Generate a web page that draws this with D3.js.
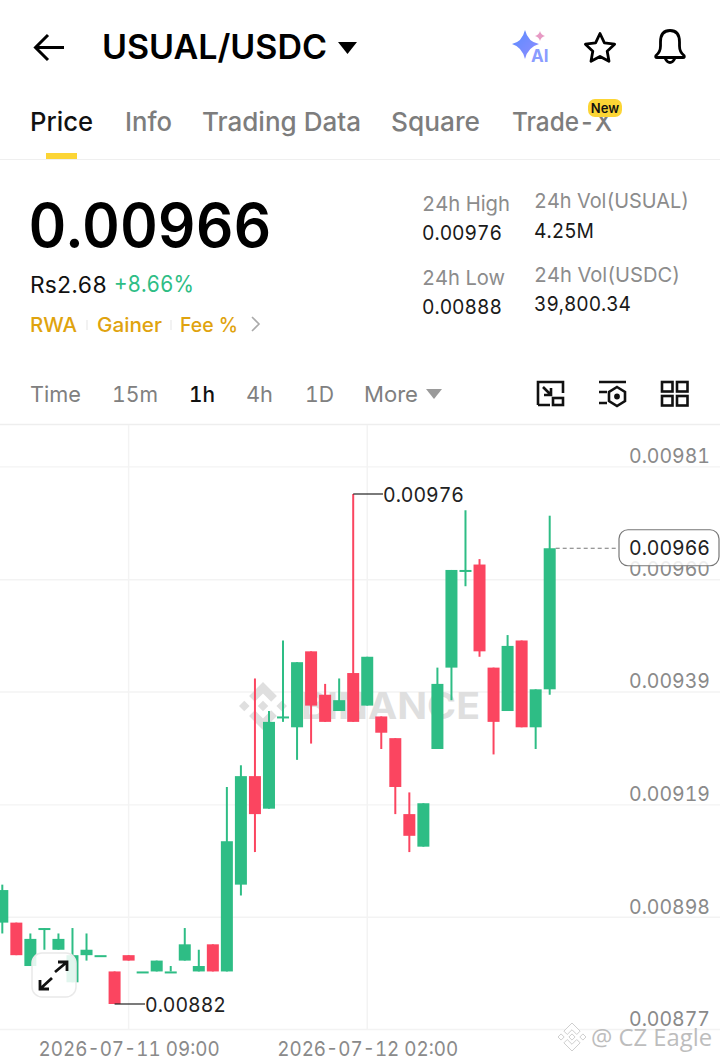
<!DOCTYPE html>
<html>
<head>
<meta charset="utf-8">
<script src="https://cdn.jsdelivr.net/npm/d3@7"></script>
<style>
  html, body { margin: 0; padding: 0; background: #fff; }
  svg { display: block; }
  text { font-family: Inter, "Noto Sans", sans-serif; font-feature-settings: "tnum"; }
</style>
</head>
<body>
<svg id="chart" width="720" height="1062"></svg>
<script>
// hourly candles, 2026-07-11 00:00 onwards (prices in 1e-5 USDC)
const opens  = [897,897,889,896,892,886,891,891,888,891,888,888,888,890,888,893,888,904,924,918,935,933,947,939,936,943,937,935,931,917,911,929,944,962,963,944,936,949,933,940];
const closes = [903,891,894,896,894,891,892,891,882,890,888,890,888,893,889,888,912,924,917,934,935,945,937,934,938,934,946,932,922,913,919,941,962,962,947,934,948,933,940,966];
const highs  = [904,897,895,896,895,896,895,891,888,891,888,890,889,896,892,893,922,926,942,936,949,945,947,941,942,976,946,935,931,921,919,944,962,973,964,944,950,949,940,972];
const lows   = [895,891,889,892,892,886,890,891,882,890,888,888,888,890,888,888,888,902,910,918,934,927,930,934,936,934,937,929,917,910,911,929,938,959,946,928,936,933,929,939];

const priceTicks = [0.00981, 0.009602, 0.009395, 0.009187, 0.00898, 0.008773];
const priceLabels = ['0.00981', '0.00960', '0.00939', '0.00919', '0.00898', '0.00877'];
const timeTicks = [Date.UTC(2026, 6, 11, 9), Date.UTC(2026, 6, 12, 2)];
const lastPrice = 0.00966;
const maxMark = { i: 25, price: 0.00976, label: '0.00976' };
const minMark = { i: 8, price: 0.00882, label: '0.00882' };

const GREEN = '#2ebd85';
const RED = '#fb4560';
const GRID = '#f3f3f3';
const HOUR = 3600000;
const START = Date.UTC(2026, 6, 11, 0);

const svg = d3.select('#chart');

const x = d3.scaleUtc()
    .domain([START, START + 39 * HOUR])
    .range([2.3, 549.7]);
const y = d3.scaleLinear()
    .domain([0.00976, 0.00882])
    .range([494, 1004]);

function label(parent, px, py, str, size, fill, weight, anchor) {
    return parent.append('text')
        .attr('x', px)
        .attr('y', py)
        .attr('font-size', size)
        .attr('font-weight', weight || 400)
        .attr('text-anchor', anchor || 'start')
        .attr('lengthAdjust', 'spacingAndGlyphs')
        .attr('fill', fill)
        .text(str);
}

// ---- header
const head = svg.append('g');
head.append('path')
    .attr('d', 'M36 47.5H64M48 35L35.5 47.5L48 60')
    .attr('fill', 'none').attr('stroke', '#000').attr('stroke-width', 3);
label(head, 102, 59, 'USUAL/USDC', 34, '#000', 600).attr('textLength', 225);
head.append('path').attr('d', 'M338 42H357L347.5 54Z').attr('fill', '#000');

// AI sparkle
const defs = svg.append('defs');
const grad = defs.append('linearGradient').attr('id', 'ai').attr('x1', 0).attr('x2', 1).attr('y1', 0).attr('y2', 1);
grad.append('stop').attr('offset', 0).attr('stop-color', '#5b8cff');
grad.append('stop').attr('offset', 1).attr('stop-color', '#8f8cff');
head.append('path')
    .attr('d', 'M525 30Q528 42 539 44Q528 47 525 59Q522 47 512 44Q522 42 525 30Z')
    .attr('fill', 'url(#ai)');
head.append('path')
    .attr('d', 'M540 31Q541 35 545 36Q541 37 540 41Q539 37 535 36Q539 35 540 31Z')
    .attr('fill', '#e79ac4');
label(head, 531, 62, 'AI', 17, '#8a9cff', 700);

head.append('path')
    .attr('d', 'M600 33.5L604.4 42.8L614.6 44.2L607.2 51.2L609 61.3L600 56.4L591 61.3L592.8 51.2L585.4 44.2L595.6 42.8Z')
    .attr('fill', 'none').attr('stroke', '#000').attr('stroke-width', 2.8).attr('stroke-linejoin', 'round');
head.append('path')
    .attr('d', 'M656 55.5Q660.5 52 660.5 46V42Q660.5 30.5 670 30.5Q679.5 30.5 679.5 42V46Q679.5 52 684 55.5Q685 57.5 683 57.5H657Q655 57.5 656 55.5ZM665 58Q667 62.5 670 62.5Q673 62.5 675 58')
    .attr('fill', 'none').attr('stroke', '#000').attr('stroke-width', 2.8).attr('stroke-linejoin', 'round');

// ---- tabs
const tabNames = ['Price', 'Info', 'Trading Data', 'Square', 'Trade-X'];
const tabX = [30, 125, 202, 391, 512];
const tabW = [63, 47, 159, 89, 100];
tabNames.forEach((t, i) => {
    label(head, tabX[i], 131, t, 26, i === 0 ? '#111' : '#7d7d7d', 500).attr('textLength', tabW[i]);
});
head.append('rect').attr('x', 46).attr('y', 153).attr('width', 31).attr('height', 6).attr('fill', '#fcd535');
head.append('line').attr('x1', 0).attr('x2', 720).attr('y1', 159.5).attr('y2', 159.5).attr('stroke', '#efefef');
head.append('rect').attr('x', 588).attr('y', 99).attr('width', 34).attr('height', 18).attr('rx', 7).attr('fill', '#fcd535');
label(head, 605, 113, 'New', 13, '#111', 600, 'middle');

// ---- price block
label(head, 28.5, 247, '0.00966', 60, '#000', 600).attr('textLength', 243);
label(head, 30, 293, 'Rs2.68', 22.5, '#111', 400).attr('textLength', 77);
label(head, 114, 292, '+8.66%', 22.5, '#2ebd85', 400).attr('textLength', 80);
label(head, 30, 332, 'RWA', 20, '#e0a30e', 500).attr('textLength', 47);
head.append('line').attr('x1', 87).attr('x2', 87).attr('y1', 320).attr('y2', 330).attr('stroke', '#e5e5e5');
label(head, 97, 332, 'Gainer', 20, '#e0a30e', 500).attr('textLength', 65);
head.append('line').attr('x1', 171).attr('x2', 171).attr('y1', 320).attr('y2', 330).attr('stroke', '#e5e5e5');
label(head, 180, 332, 'Fee %', 20, '#e0a30e', 500).attr('textLength', 58);
head.append('path').attr('d', 'M252 317L259 324L252 331').attr('fill', 'none').attr('stroke', '#aaa').attr('stroke-width', 1.6);

const statNames = ['24h High', '24h Low', '24h Vol(USUAL)', '24h Vol(USDC)'];
const statValues = ['0.00976', '0.00888', '4.25M', '39,800.34'];
const statX = [422, 422, 534, 534];
const statNameY = [211, 285, 208, 282];
const statValueY = [240, 314, 238, 311];
const statNameW = [88, 83, 155, 146];
const statValueW = [80, 80, 60, 97];
statNames.forEach((s, i) => {
    label(head, statX[i], statNameY[i], s, 20.5, '#8c8c8c').attr('textLength', statNameW[i]);
    label(head, statX[i], statValueY[i], statValues[i], 20.5, '#1a1a1a').attr('textLength', statValueW[i]);
});

// ---- interval row
const ranges = ['Time', '15m', '1h', '4h', '1D', 'More'];
const rangeX = [30, 112, 189, 246, 305, 364];
const rangeW = [51, 46, 26, 27, 29, 54];
ranges.forEach((r, i) => {
    label(head, rangeX[i], 402, r, 22, i === 2 ? '#111' : '#808080', i === 2 ? 500 : 400).attr('textLength', rangeW[i]);
});
head.append('path').attr('d', 'M426 389H442L434 399Z').attr('fill', '#9a9a9a');

const tool = head.append('g').attr('fill', 'none').attr('stroke', '#111').attr('stroke-width', 2.6);
tool.append('path').attr('d', 'M538 405V382H563V393M538 405H550');
tool.append('path').attr('d', 'M543 387L551 395M551 388V395H544');
tool.append('rect').attr('x', 553).attr('y', 398).attr('width', 10).attr('height', 7);
tool.append('path').attr('d', 'M599 382H626M599 392H607M599 403H607');
tool.append('path').attr('d', 'M617 387L625 392V401L617 406L609 401V392Z');
tool.append('circle').attr('cx', 617).attr('cy', 396.5).attr('r', 1.6).attr('fill', '#111');
[[662, 382], [677, 382], [662, 396], [677, 396]].forEach(c => {
    tool.append('rect').attr('x', c[0]).attr('y', c[1]).attr('width', 10.5).attr('height', 9.5);
});

// ---- chart frame and grid
const grid = svg.append('g').attr('stroke', GRID).attr('stroke-width', 1.4);
grid.append('line').attr('x1', 0).attr('x2', 720).attr('y1', 424.5).attr('y2', 424.5).attr('stroke', '#eee');
grid.selectAll('.h').data(priceTicks).enter().append('line')
    .attr('class', 'h')
    .attr('x1', 0).attr('x2', 720)
    .attr('y1', d => y(d)).attr('y2', d => y(d));
grid.selectAll('.v').data(timeTicks).enter().append('line')
    .attr('class', 'v')
    .attr('x1', d => x(d)).attr('x2', d => x(d))
    .attr('y1', 425).attr('y2', y(priceTicks[5]));

// ---- watermark behind the candles
const mark = svg.append('g').attr('fill', '#dfdfdf');
function diamondLogo(g, cx, cy, s) {
    const pts = (list) => 'M' + list.map(p => `${cx + p[0] * s} ${cy + p[1] * s}`).join('L') + 'Z';
    const chevron = [[0, -1], [0.58, -0.42], [0.34, -0.18], [0, -0.52], [-0.34, -0.18], [-0.58, -0.42]];
    g.append('path').attr('d', pts(chevron));
    g.append('path').attr('d', pts(chevron.map(p => [p[0], -p[1]])));
    [-0.78, 0, 0.78].forEach(off => {
        g.append('path').attr('d', pts([[off, -0.22], [off + 0.22, 0], [off, 0.22], [off - 0.22, 0]]));
    });
}
diamondLogo(mark, 263, 706, 24);
label(mark, 301, 719, 'BINANCE', 37, '#dfdfdf', 700).attr('textLength', 179);

// ---- axes
const yAxis = d3.axisRight(y)
    .tickValues(priceTicks)
    .tickFormat((d, i) => priceLabels[i])
    .tickSize(0)
    .tickPadding(0);
const yG = svg.append('g').attr('transform', 'translate(710,0)').call(yAxis);
yG.select('.domain').remove();
yG.selectAll('text')
    .attr('text-anchor', 'end')
    .attr('dy', '-0.2em')
    .attr('font-size', 20.5)
    .attr('fill', '#8a8a8a')
    .attr('font-family', 'Inter')
    .attr('lengthAdjust', 'spacingAndGlyphs')
    .attr('textLength', 81);

const xAxis = d3.axisBottom(x)
    .tickValues(timeTicks)
    .tickFormat(d3.utcFormat('%Y-%m-%d %H:%M'))
    .tickSize(0)
    .tickPadding(0);
const xG = svg.append('g').attr('transform', 'translate(0,1041)').call(xAxis);
xG.select('.domain').remove();
xG.selectAll('text')
    .attr('font-size', 20.5)
    .attr('fill', '#8a8a8a')
    .attr('font-family', 'Inter')
    .attr('lengthAdjust', 'spacingAndGlyphs')
    .attr('textLength', 181);

// ---- candles
const candles = opens.map((o, i) => ({
    t: START + i * HOUR,
    open: o / 1e5,
    close: closes[i] / 1e5,
    high: highs[i] / 1e5,
    low: lows[i] / 1e5,
}));
const color = d => (d.close >= d.open ? GREEN : RED);
const cg = svg.append('g');
cg.selectAll('.wick').data(candles).enter().append('line')
    .attr('class', 'wick')
    .attr('x1', d => x(d.t)).attr('x2', d => x(d.t))
    .attr('y1', d => y(d.high)).attr('y2', d => y(d.low))
    .attr('stroke', color)
    .attr('stroke-width', 2);
cg.selectAll('.body').data(candles).enter().append('rect')
    .attr('class', 'body')
    .attr('x', d => x(d.t) - 6)
    .attr('width', 12)
    .attr('y', d => y(Math.max(d.open, d.close)))
    .attr('height', d => Math.max(2, Math.abs(y(d.open) - y(d.close))))
    .attr('fill', color);

// ---- high / low labels
const markG = svg.append('g');
markG.append('line')
    .attr('x1', x(START + maxMark.i * HOUR)).attr('x2', 383)
    .attr('y1', y(maxMark.price)).attr('y2', y(maxMark.price))
    .attr('stroke', '#222').attr('stroke-width', 1.2);
label(markG, 383, y(maxMark.price) + 7.5, maxMark.label, 20.5, '#222').attr('textLength', 81);
markG.append('line')
    .attr('x1', x(START + minMark.i * HOUR)).attr('x2', 145)
    .attr('y1', y(minMark.price)).attr('y2', y(minMark.price))
    .attr('stroke', '#222').attr('stroke-width', 1.2);
label(markG, 145, y(minMark.price) + 7.5, minMark.label, 20.5, '#222').attr('textLength', 81);

// ---- last price tag
svg.append('line')
    .attr('x1', x(START + 39 * HOUR) + 6).attr('x2', 618)
    .attr('y1', y(lastPrice)).attr('y2', y(lastPrice))
    .attr('stroke', '#777').attr('stroke-width', 1.2).attr('stroke-dasharray', '4 3');
svg.append('rect')
    .attr('x', 619).attr('y', y(lastPrice) - 18.5)
    .attr('width', 100).attr('height', 36).attr('rx', 9)
    .attr('fill', '#fff').attr('fill-opacity', 0.85)
    .attr('stroke', '#777').attr('stroke-width', 1.2);
label(svg, 629, y(lastPrice) + 7, '0.00966', 20.5, '#222').attr('textLength', 81);

// ---- expand button
svg.append('rect')
    .attr('x', 32).attr('y', 953).attr('width', 44).attr('height', 44).attr('rx', 10)
    .attr('fill', '#fff').attr('fill-opacity', 0.86)
    .attr('stroke', '#e9e9e9').attr('stroke-width', 1.5);
svg.append('path')
    .attr('d', 'M40 989L52 978M40 980V989H49M55 972L67 962M58 962H67V971')
    .attr('fill', 'none').attr('stroke', '#111').attr('stroke-width', 2.8);

// ---- photo credit
const credit = svg.append('g');
credit.append('g').attr('fill', '#fff').attr('stroke', '#cfcfcf').call(g => diamondLogo(g, 572, 1037, 14));
label(credit, 591, 1046, '@ CZ Eagle', 24, '#bdbdbd', 400)
    .style('font-family', '"Open Sans"')
    .attr('textLength', 121);
</script>
</body>
</html>
